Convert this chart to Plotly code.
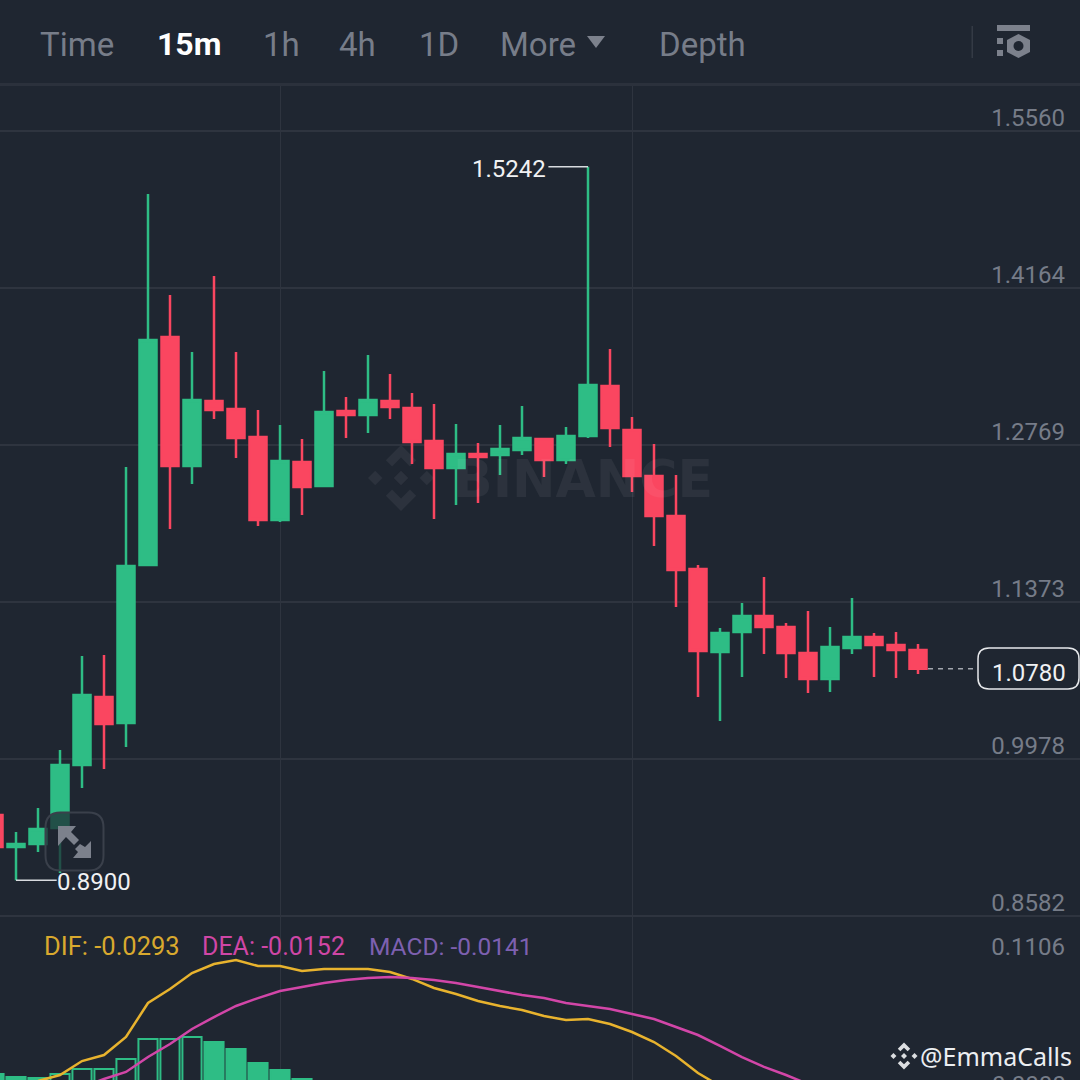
import plotly.graph_objects as go

W = 1080
BG = "#1f2631"
GRID = "#2e343f"
MUTED = "#767c88"
GREEN = "#2ebd85"
RED = "#fa4660"

# %%
opens = [0.9480, 0.9196, 0.9222, 0.9364, 0.9924, 1.0529, 1.0298, 1.1702, 1.3729, 1.2582, 1.3160,
         1.3089, 1.2840, 1.2102, 1.2618, 1.2404, 1.3071, 1.3036, 1.3160, 1.3098, 1.2804, 1.2564,
         1.2689, 1.2680, 1.2724, 1.2822, 1.2636, 1.2849, 1.3293, 1.2902, 1.2493, 1.2138, 1.1667,
         1.0929, 1.1107, 1.1249, 1.1151, 1.0920, 1.0689, 1.0964, 1.1062, 1.0991, 1.0947]
highs = [0.9507, 0.9329, 0.9542, 1.0058, 1.0893, 1.0902, 1.2573, 1.5000, 1.4102, 1.3596, 1.4271,
         1.3596, 1.3080, 1.2947, 1.2822, 1.3427, 1.3196, 1.3569, 1.3400, 1.3231, 1.3133, 1.2956,
         1.2787, 1.2947, 1.3116, 1.2831, 1.2929, 1.5242, 1.3622, 1.3018, 1.2778, 1.2502, 1.1702,
         1.1142, 1.1364, 1.1596, 1.1187, 1.1293, 1.1151, 1.1409, 1.1098, 1.1107, 1.1000]
lows = [0.9169, 0.8900, 0.9151, 0.8964, 0.9720, 0.9889, 1.0084, 1.1702, 1.2022, 1.2422, 1.3000,
        1.2653, 1.2049, 1.2084, 1.2147, 1.2396, 1.2831, 1.2876, 1.3000, 1.2600, 1.2111, 1.2236,
        1.2253, 1.2502, 1.2680, 1.2484, 1.2600, 1.2831, 1.2751, 1.2351, 1.1871, 1.1329, 1.0529,
        1.0316, 1.0707, 1.0911, 1.0698, 1.0564, 1.0573, 1.0911, 1.0707, 1.0698, 1.0733]
closes = [0.9196, 0.9222, 0.9356, 0.9924, 1.0547, 1.0289, 1.1693, 1.3702, 1.2582, 1.3169, 1.3080,
          1.2831, 1.2102, 1.2627, 1.2396, 1.3062, 1.3036, 1.3169, 1.3107, 1.2796, 1.2564, 1.2689,
          1.2662, 1.2733, 1.2831, 1.2636, 1.2849, 1.3302, 1.2920, 1.2493, 1.2138, 1.1658, 1.0938,
          1.1098, 1.1249, 1.1151, 1.0920, 1.0689, 1.0973, 1.1062, 1.0991, 1.0947, 1.0780]

price_ticks = [1.5560, 1.4164, 1.2769, 1.1373, 0.9978, 0.8582]
time_grid = [13, 29]

dif_idx = list(range(2, 34))
dif = [0.0143, 0.0191, 0.0302, 0.0350, 0.0493, 0.0764, 0.0875, 0.1002, 0.1074, 0.1106, 0.1058,
       0.1058, 0.1018, 0.1034, 0.1034, 0.1034, 0.1010, 0.0955, 0.0883, 0.0835, 0.0780, 0.0740,
       0.0708, 0.0660, 0.0628, 0.0636, 0.0597, 0.0533, 0.0453, 0.0342, 0.0207, 0.0103]
dea_idx = list(range(4, 38))
dea = [0.0095, 0.0159, 0.0215, 0.0334, 0.0438, 0.0557, 0.0652, 0.0740, 0.0803, 0.0859, 0.0891,
       0.0923, 0.0947, 0.0963, 0.0971, 0.0963, 0.0947, 0.0923, 0.0891, 0.0859, 0.0827, 0.0803,
       0.0764, 0.0740, 0.0716, 0.0676, 0.0636, 0.0573, 0.0509, 0.0422, 0.0334, 0.0255, 0.0191, 0.0119]
hist = [0.0199, 0.0175, 0.0167, 0.0199, 0.0239, 0.0239, 0.0318, 0.0477, 0.0477, 0.0493, 0.0453,
        0.0398, 0.0286, 0.0231, 0.0159]
hist_hollow = [False, False, False, True, True, True, True, True, True, True, False,
               False, False, False, False]

last_price = 1.0780
header_tabs = ["Time", "15m", "1h", "4h", "1D", "More", "Depth"]
tab_left = [41, 158, 264, 340, 420, 501, 660]


# %%
def px(x):
    return x / W


def py(y):
    return 1 - y / W


def page_shape(path, fill=None, line=None, width=0, layer="above"):
    return dict(type="path", path=path, xref="paper", yref="paper", layer=layer,
                fillcolor=fill, line=dict(color=line, width=width))


def poly(points):
    return "M" + " L".join(f"{px(x)},{py(y)}" for x, y in points) + " Z"


def round_rect(x0, y0, x1, y1, r):
    return (f"M{px(x0 + r)},{py(y0)} L{px(x1 - r)},{py(y0)} Q{px(x1)},{py(y0)} {px(x1)},{py(y0 + r)} "
            f"L{px(x1)},{py(y1 - r)} Q{px(x1)},{py(y1)} {px(x1 - r)},{py(y1)} "
            f"L{px(x0 + r)},{py(y1)} Q{px(x0)},{py(y1)} {px(x0)},{py(y1 - r)} "
            f"L{px(x0)},{py(y0 + r)} Q{px(x0)},{py(y0)} {px(x0 + r)},{py(y0)} Z")


def logo(cx, cy, s, color, layer="above"):
    def at(pts):
        return poly([(cx + a * s, cy + b * s) for a, b in pts])
    top = [(0, -1), (.46, -.54), (.27, -.35), (0, -.62), (-.27, -.35), (-.46, -.54)]
    bottom = [(a, -b) for a, b in top]
    parts = [top, bottom,
             [(0, -.22), (.22, 0), (0, .22), (-.22, 0)],
             [(-.78, -.22), (-.56, 0), (-.78, .22), (-1, 0)],
             [(.78, -.22), (1, 0), (.78, .22), (.56, 0)]]
    return [page_shape(at(p), fill=color, layer=layer) for p in parts]


def label(text, x, y, size, color, anchor="left", family="Roboto", bold=False):
    if bold:
        text = f"<b>{text}</b>"
    # annotations sit about 3px in from their anchor
    shift = -3 if anchor == "left" else 3
    return dict(text=text, x=px(x), y=py(y), xref="paper", yref="paper", xanchor=anchor, xshift=shift,
                yanchor="middle", showarrow=False, font=dict(family=family, size=size, color=color))


# %%
x_all = list(range(len(opens)))
fig = go.Figure()
fig.add_trace(go.Candlestick(x=x_all, open=opens, high=highs, low=lows, close=closes,
                             increasing=dict(line=dict(color=GREEN, width=2.5), fillcolor=GREEN),
                             decreasing=dict(line=dict(color=RED, width=2.5), fillcolor=RED),
                             xaxis="x", yaxis="y", showlegend=False))
fig.add_trace(go.Bar(x=x_all[:len(hist)], y=hist, xaxis="x2", yaxis="y2",
                     marker=dict(color=[BG if h else GREEN for h in hist_hollow],
                                 line=dict(color=GREEN, width=2))))
fig.add_trace(go.Scatter(x=dif_idx, y=dif, mode="lines", xaxis="x2", yaxis="y2",
                         line=dict(color="#e8b32e", width=2.5)))
fig.add_trace(go.Scatter(x=dea_idx, y=dea, mode="lines", xaxis="x2", yaxis="y2",
                         line=dict(color="#d246a8", width=2.5)))

shapes = []
# header
shapes.append(page_shape(poly([(0, 83), (W, 83), (W, 86), (0, 86)]), fill="#2b313c"))
shapes.append(page_shape(poly([(587, 36), (605, 36), (596, 48)]), fill="#7c818c"))
shapes.append(page_shape(poly([(971.5, 26), (973, 26), (973, 58), (971.5, 58)]), fill="#343a45"))
shapes.append(page_shape(poly([(997, 25), (1030, 25), (1030, 31), (997, 31)]), fill="#7c818c"))
shapes.append(page_shape(poly([(997, 38), (1003, 38), (1003, 44), (997, 44)]), fill="#7c818c"))
shapes.append(page_shape(poly([(997, 50), (1003, 50), (1003, 56), (997, 56)]), fill="#7c818c"))
shapes.append(page_shape(poly([(1018.5, 34), (1030, 40), (1030, 52), (1018.5, 58), (1007, 52), (1007, 40)]), fill="#7c818c"))
shapes.append(dict(type="circle", xref="paper", yref="paper", x0=px(1013.5), x1=px(1023.5), y0=py(51), y1=py(41),
                   fillcolor=BG, line=dict(width=0)))

# watermark
shapes += logo(401, 478, 33, "#2c323d", layer="below")

# high / low leaders
hi = max(highs)
lo = min(lows)
shapes.append(dict(type="path", xref="x", yref="y",
                   path=f"M25.2,{hi} L{highs.index(hi)},{hi}", line=dict(color="#d8dbdf", width=1.5)))
shapes.append(dict(type="path", xref="x", yref="y",
                   path=f"M{lows.index(lo)},{lo} L2.85,{lo}", line=dict(color="#d8dbdf", width=1.5)))

# last price
shapes.append(dict(type="line", xref="paper", yref="y", x0=px(928), x1=px(978), y0=last_price, y1=last_price,
                   line=dict(color="#a3a7af", width=1.5, dash="5px,5px")))
shapes.append(page_shape(round_rect(978, 648, 1079, 689, 11), fill=BG, line="#e6e8eb", width=1.5))

# expand button
shapes.append(page_shape(round_rect(45.5, 812.5, 103.5, 870.5, 15), fill="rgba(31,38,49,0.72)", line="#3a404b", width=2))
shapes.append(page_shape(poly([(58, 826), (76, 826), (71, 832), (79, 840), (74, 845), (66, 837), (58, 846)]), fill="#7c818c"))
shapes.append(page_shape(poly([(91, 858), (73, 858), (78, 852), (75, 849), (80, 844), (85, 847), (91, 841)]), fill="#7c818c"))

# footer logo
shapes += logo(904, 1056, 13.5, "#dcdee1")

annotations = []
for name, left in zip(header_tabs, tab_left):
    active = name == "15m"
    annotations.append(label(name, left, 44, 32 if active else 33, "#ffffff" if active else "#777d89", bold=active))
annotations.append(label("BINANCE", 454, 479, 52, "rgba(255,255,255,0.06)", family="DejaVu Sans", bold=True))
annotations.append(label(f"{hi:.4f}", 545, 169, 24, "#f0f1f3", anchor="right"))
annotations.append(label(f"{lo:.4f}", 58, 882, 24, "#f0f1f3"))
annotations.append(label(f"{last_price:.4f}", 1065, 673, 24, "#f0f1f3", anchor="right"))
annotations.append(label("DIF: -0.0293", 45, 946, 25.5, "#d9a92e"))
annotations.append(label("DEA: -0.0152", 203, 946, 25, "#cf46a6"))
annotations.append(label("MACD: -0.0141", 370, 946, 24.5, "#7d60b0"))
annotations.append(label("0.0000", 1065, 1085, 24, MUTED, anchor="right"))
annotations.append(label("@EmmaCalls", 921, 1056, 25, "#eceef1", family="Noto Sans"))

x_range = [6 / 22, 1086 / 22]
x_common = dict(range=x_range, tickmode="array", tickvals=time_grid, showticklabels=False, ticks="",
                showgrid=True, gridcolor=GRID, gridwidth=1, zeroline=False, showline=False)

fig.update_layout(
    width=W, height=W,
    margin=dict(l=0, r=0, t=0, b=0, autoexpand=False),
    paper_bgcolor=BG, plot_bgcolor="rgba(0,0,0,0)",
    showlegend=False, boxgap=0.227, boxgroupgap=0, bargap=0.13,
    xaxis=dict(anchor="y", rangeslider=dict(visible=False), **x_common),
    xaxis2=dict(anchor="y2", **x_common),
    yaxis=dict(domain=[0.15, 1 - 85 / W], range=[0.85644, 1.59689], side="right",
               tickmode="array", tickvals=price_ticks, ticktext=[f"{t:.4f}" for t in price_ticks],
               ticklabelposition="inside top", ticklabelstandoff=12, ticklabelshift=3, ticks="",
               tickfont=dict(family="Roboto", size=24, color=MUTED),
               showgrid=True, gridcolor=GRID, gridwidth=2, zeroline=False, showline=False),
    yaxis2=dict(domain=[0, 1 - 916 / W], range=[0.01512, 0.14558], side="right",
                tickmode="array", tickvals=[0.1106], ticktext=["0.1106"],
                ticklabelposition="inside top", ticklabelstandoff=12, ticklabelshift=3, ticks="",
                tickfont=dict(family="Roboto", size=24, color=MUTED),
                showgrid=False, zeroline=False, showline=False),
    shapes=shapes,
    annotations=annotations,
)

fig.write_html("out.html", post_script="document.body.style.margin='0';",
               config=dict(displayModeBar=False))
